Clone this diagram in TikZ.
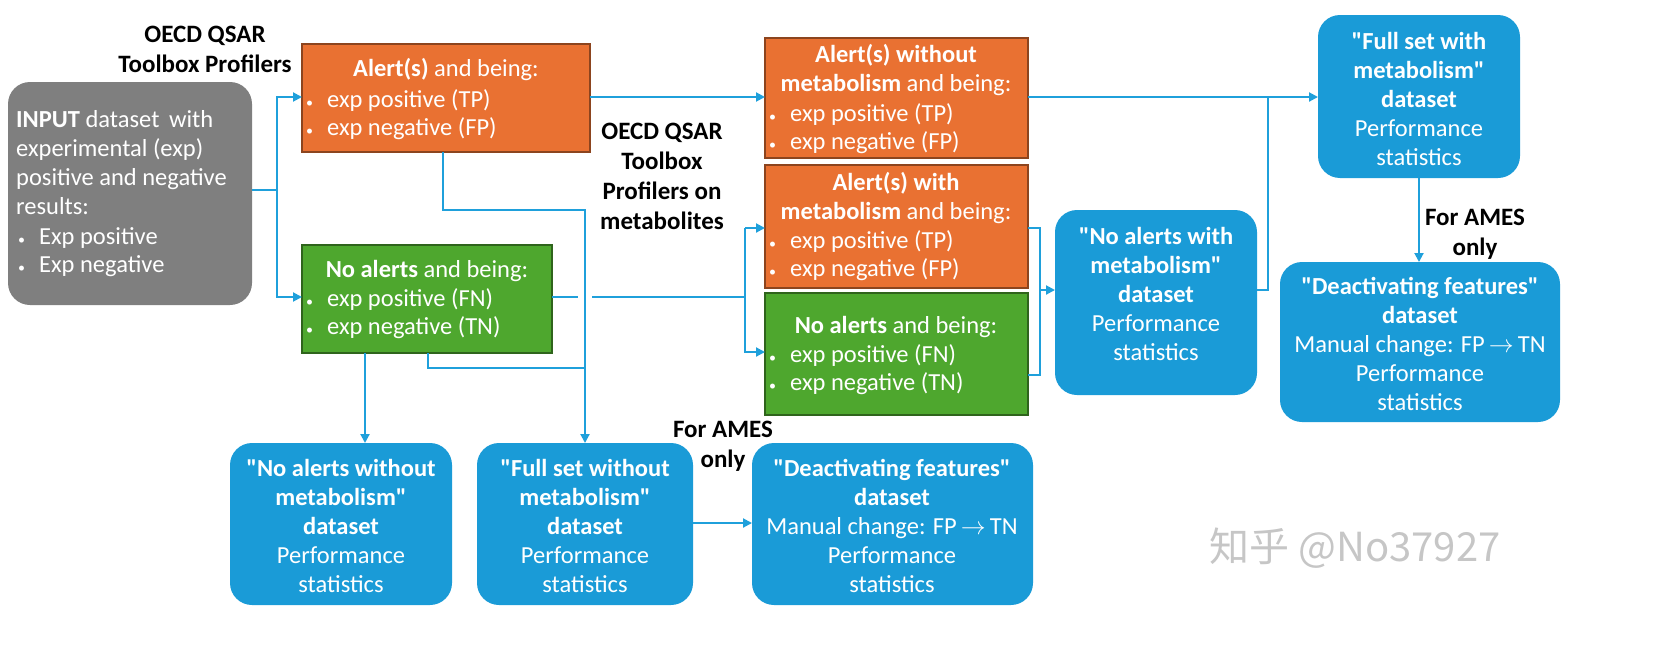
\documentclass[tikz,border=0pt]{standalone}
\usepackage{fontspec}
\setmainfont{Carlito}
\newfontfamily\cjk{Noto Sans CJK SC}
\usetikzlibrary{arrows.meta}
\definecolor{org}{HTML}{E97132}
\definecolor{grn}{HTML}{4EA72E}
\definecolor{blu}{HTML}{1A9BD7}
\definecolor{gry}{HTML}{7F7F7F}
\definecolor{ln}{HTML}{1FA0DB}
\newcommand{\q}{\textquotedbl}
\newcommand{\bu}{{\fontsize{14}{14}\selectfont\textbullet}\hspace{14pt}}
\begin{document}
\begin{tikzpicture}[x=1pt,y=-1pt,
  box/.style={draw=#1!60!black,line width=1.5pt,fill=#1,inner sep=0pt},
  rbox/.style={fill=#1,rounded corners=22pt,inner sep=0pt,draw=none},
  txt/.style={text=white,font=\fontsize{24.5}{29}\selectfont,align=center},
  bl/.style={text=white,font=\fontsize{24.5}{29}\selectfont,anchor=west,inner sep=0pt},
  lab/.style={font=\fontsize{25}{30}\selectfont\bfseries,align=center},
  con/.style={draw=ln,line width=2pt},
  arr/.style={con,-{Triangle[length=9pt,width=9pt]}}]
\useasboundingbox (0,0) rectangle (1661,648);
% boxes
\path[rbox=gry] (8,82) rectangle (252,305);
\node[txt,align=left,anchor=north west,inner sep=0pt] (in) at (16,110) {\textbf{INPUT} dataset\,\ with\\experimental (exp)\\positive and negative\\results:};
\node[bl] at (18,238) {\bu Exp positive};
\node[bl] at (18,266) {\bu Exp negative};

\draw[box=org] (302,44) rectangle (590,152);
\node[txt] at (446,70) {\textbf{Alert(s)} and being:};
\node[bl] at (306,101) {\bu exp positive (TP)};
\node[bl] at (306,129) {\bu exp negative (FP)};

\draw[box=grn] (302,245) rectangle (552,353);
\node[txt] at (427,271) {\textbf{No alerts} and being:};
\node[bl] at (306,300) {\bu exp positive (FN)};
\node[bl] at (306,328) {\bu exp negative (TN)};

\draw[box=org] (765,38) rectangle (1028,158);
\node[txt] at (896,70) {\textbf{Alert(s) without}\\\textbf{metabolism} and being:};
\node[bl] at (769,115) {\bu exp positive (TP)};
\node[bl] at (769,143) {\bu exp negative (FP)};

\draw[box=org] (765,165) rectangle (1028,288);
\node[txt] at (896,198) {\textbf{Alert(s) with}\\\textbf{metabolism} and being:};
\node[bl] at (769,242) {\bu exp positive (TP)};
\node[bl] at (769,270) {\bu exp negative (FP)};

\draw[box=grn] (765,293) rectangle (1028,415);
\node[txt] at (896,327) {\textbf{No alerts} and being:};
\node[bl] at (769,356) {\bu exp positive (FN)};
\node[bl] at (769,384) {\bu exp negative (TN)};

\path[rbox=blu] (1055,210) rectangle (1257,395);
\node[txt] at (1156,294) {\textbf{\q No alerts with}\\\textbf{metabolism\q}\\\textbf{dataset}\\Performance\\statistics};
\path[rbox=blu] (1318,15) rectangle (1520,178);
\node[txt] at (1419,99) {\textbf{\q Full set with}\\\textbf{metabolism\q}\\\textbf{dataset}\\Performance\\statistics};
\path[rbox=blu] (1280,262) rectangle (1560,422);
\node[txt] at (1420,344) {\textbf{\q Deactivating features\q}\\\textbf{dataset}\\Manual change: FP\,$\rightarrow$\,TN\\Performance\\statistics};
\path[rbox=blu] (230,443) rectangle (452,605);
\node[txt] at (341,526) {\textbf{\q No alerts without}\\\textbf{metabolism\q}\\\textbf{dataset}\\Performance\\statistics};
\path[rbox=blu] (477,443) rectangle (693,605);
\node[txt] at (585,526) {\textbf{\q Full set without}\\\textbf{metabolism\q}\\\textbf{dataset}\\Performance\\statistics};
\path[rbox=blu] (752,443) rectangle (1033,605);
\node[txt] at (892,526) {\textbf{\q Deactivating features\q}\\\textbf{dataset}\\Manual change: FP\,$\rightarrow$\,TN\\Performance\\statistics};

% labels
\node[lab] at (205,49) {OECD QSAR\\Toolbox Profilers};
\node[lab] at (662,176) {OECD QSAR\\Toolbox\\Profilers on\\metabolites};
\node[lab] at (1475,234) {For AMES\\only};
\node[lab] at (723,446) {For AMES\\only};
\node[text=gray!45,font=\cjk\fontsize{40}{42}\selectfont] at (1355,548) {知乎 @No37927};

% connectors
\draw[con] (252,190) -- (277,190);
\draw[arr] (277,190) |- (302,97);
\draw[arr] (277,190) |- (302,297);
\draw[arr] (590,97) -- (765,97);
\draw[arr] (443,152) |- (585,210) -- (585,443);
\draw[con] (428,353) |- (585,368);
\draw[arr] (365,353) -- (365,443);
\draw[con] (552,297) -- (578,297);
\draw[con] (592,297) -- (745,297);
\draw[arr] (745,228) -- (765,228);
\draw[arr] (745,297) |- (765,352);
\draw[con] (745,297) -- (745,228);
\draw[arr] (1028,97) -- (1318,97);
\draw[con] (1257,290) -- (1268,290) -- (1268,97);
\draw[con] (1028,228) -- (1040,228) -- (1040,375) -- (1028,375);
\draw[arr] (1040,290) -- (1055,290);
\draw[arr] (1419,178) -- (1419,262);
\draw[arr] (693,523) -- (752,523);
\end{tikzpicture}
\end{document}
